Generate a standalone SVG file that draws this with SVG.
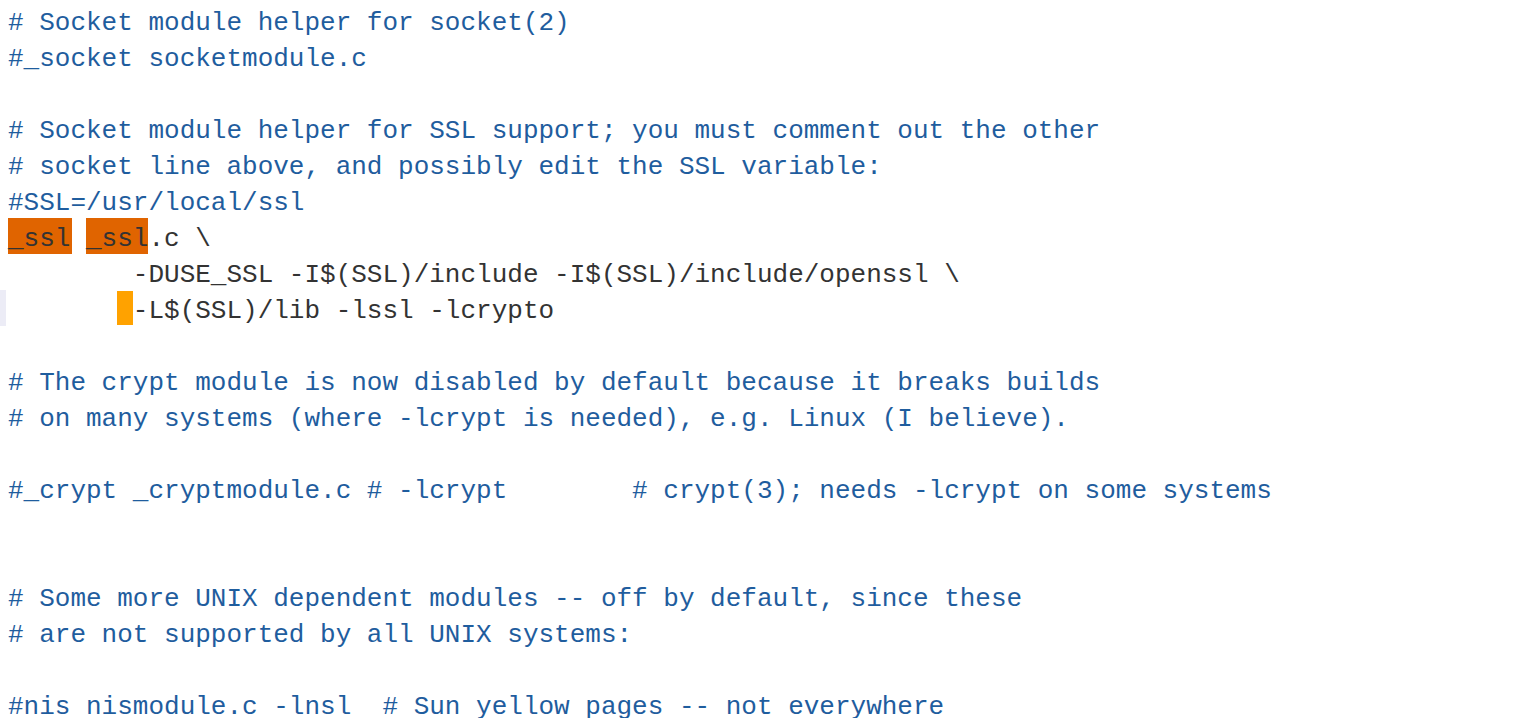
<svg xmlns="http://www.w3.org/2000/svg" width="1530" height="718" viewBox="0 0 1530 718">
<style>
text{font-family:"Liberation Mono","DejaVu Sans Mono",monospace;font-size:26px;white-space:pre}
.c{fill:#1f5d9e}.k{fill:#333333}
</style>
<rect width="1530" height="718" fill="#ffffff"/>
<rect x="8" y="218" width="64" height="36" fill="#e06400"/>
<rect x="86" y="218" width="62" height="36" fill="#e06400"/>
<rect x="0" y="290" width="6" height="36" fill="#ececf6"/>
<rect x="117" y="291" width="16" height="34" fill="#ffa200"/>
<g xml:space="preserve">
<text x="8" y="30" class="c"># Socket module helper for socket(2)</text>
<text x="8" y="66" class="c">#_socket socketmodule.c</text>
<text x="8" y="138" class="c"># Socket module helper for SSL support; you must comment out the other</text>
<text x="8" y="174" class="c"># socket line above, and possibly edit the SSL variable:</text>
<text x="8" y="210" class="c">#SSL=/usr/local/ssl</text>
<text x="8" y="246" class="k">_ssl _ssl.c \</text>
<text x="8" y="282" class="k">        -DUSE_SSL -I$(SSL)/include -I$(SSL)/include/openssl \</text>
<text x="8" y="318" class="k">        -L$(SSL)/lib -lssl -lcrypto</text>
<text x="8" y="390" class="c"># The crypt module is now disabled by default because it breaks builds</text>
<text x="8" y="426" class="c"># on many systems (where -lcrypt is needed), e.g. Linux (I believe).</text>
<text x="8" y="498" class="c">#_crypt _cryptmodule.c # -lcrypt        # crypt(3); needs -lcrypt on some systems</text>
<text x="8" y="606" class="c"># Some more UNIX dependent modules -- off by default, since these</text>
<text x="8" y="642" class="c"># are not supported by all UNIX systems:</text>
<text x="8" y="714" class="c">#nis nismodule.c -lnsl  # Sun yellow pages -- not everywhere</text>
</g>
</svg>
